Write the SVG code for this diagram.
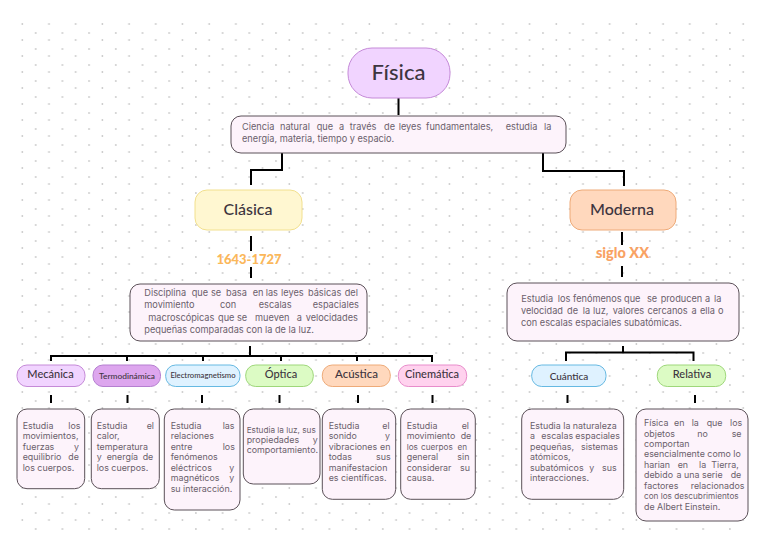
<svg xmlns="http://www.w3.org/2000/svg" width="768" height="556" viewBox="0 0 768 556">
<style>
.h{font-family:"Lato","Noto Sans",sans-serif;fill:#3d3540;text-anchor:middle;font-weight:500}
.b{font-family:"Inter","Noto Sans",sans-serif;font-size:9.2px;fill:#6b5f6c}
.t{font-size:8.9px}
.n{font-size:8.2px}
.s{font-family:"Lato","Noto Sans",sans-serif;font-weight:900;text-anchor:middle}
.d{fill:#fdf3fb;stroke:#5b5058;stroke-width:1}
.c{fill:none;stroke:#000;stroke-width:2}
</style>
<defs>
<pattern id="dots" width="53.4" height="32" patternUnits="userSpaceOnUse" x="16" y="18">
<circle cx="6.300" cy="6" r="0.9" fill="#c8c8c8"/><circle cx="33" cy="6" r="0.9" fill="#c8c8c8"/>
<circle cx="19.700" cy="15" r="0.9" fill="#c8c8c8"/><circle cx="46.400" cy="15" r="0.9" fill="#c8c8c8"/>
<circle cx="6.300" cy="22" r="0.9" fill="#c8c8c8"/><circle cx="33" cy="22" r="0.9" fill="#c8c8c8"/>
<circle cx="19.700" cy="31" r="0.9" fill="#c8c8c8"/><circle cx="46.400" cy="31" r="0.9" fill="#c8c8c8"/>
</pattern>
</defs>
<rect width="768" height="556" fill="#fff"/>
<rect x="16" y="18" width="734" height="516" fill="url(#dots)"/>
<g id="connectors" class="c">
<path d="M398.500 98V115"/>
<path d="M282 153V170H251V185"/>
<path d="M543 153V171H624V186"/>
<path d="M251 236V251M251 267V278"/>
<path d="M622 232V245M622 266V277"/>
<path d="M250 346V356"/>
<path d="M51 361V356H432V362M127 356V361M203 356V361M281 356V361M357 356V361"/>
<path d="M623 346V352"/>
<path d="M566 361V352.500H693.500V361"/>
<path d="M51 395V403M127.500 395V403M202 395V403M279.500 395V403M358 395V403M432.500 395V403M567.500 395V403M695 395V403"/>
</g>
<g id="fisica"><rect x="348" y="48" width="102" height="50" rx="24" fill="#f1d4ff" stroke="#c58ad8"/><text class="h" x="398.500" y="80" font-size="22">Física</text></g>
<g id="ciencia"><rect class="d" x="231" y="116" width="335" height="37" rx="10"/><text class="b"><tspan x="242" y="130">Ciencia </tspan><tspan x="280">natural </tspan><tspan x="316.700">que </tspan><tspan x="339">a </tspan><tspan x="349.700">través </tspan><tspan x="384">de </tspan><tspan x="398.700">leyes </tspan><tspan x="426">fundamentales, </tspan><tspan x="505.700">estudia </tspan><tspan x="544">la</tspan><tspan x="242" y="142">energía, materia, tiempo y espacio.</tspan></text></g>
<g id="clasica"><rect x="195" y="190" width="107" height="40" rx="12" fill="#fff7d1" stroke="#f2e08e"/><text class="h" x="248" y="215" font-size="16">Clásica</text></g>
<g id="moderna"><rect x="570" y="190" width="106" height="40" rx="12" fill="#ffd8bd" stroke="#eeaa78"/><text class="h" x="622" y="215" font-size="16">Moderna</text></g>
<g id="y1"><text class="s" x="249" y="264" font-size="13" fill="#fbb75a">1643-1727</text></g>
<g id="y2"><text class="s" x="622.500" y="258" font-size="14.500" fill="#f9a263">siglo XX</text></g>
<g id="disciplina"><rect class="d" x="130" y="284" width="237" height="57" rx="10"/><text class="b"><tspan x="144.300" y="296">Disciplina </tspan><tspan x="191.700">que </tspan><tspan x="211">se </tspan><tspan x="226">basa </tspan><tspan x="252.700">en </tspan><tspan x="265.700">las </tspan><tspan x="281">leyes </tspan><tspan x="308">básicas </tspan><tspan x="344.700">del</tspan><tspan x="144.300" y="308">movimiento </tspan><tspan x="220">con </tspan><tspan x="258.700">escalas </tspan><tspan x="312.700">espaciales</tspan><tspan x="148.300" y="321">macroscópicas </tspan><tspan x="218">que </tspan><tspan x="237">se </tspan><tspan x="255">mueven </tspan><tspan x="296.700">a </tspan><tspan x="305.700">velocidades</tspan><tspan x="144.300" y="333">pequeñas comparadas con la de la luz.</tspan></text></g>
<g id="estudia-mod"><rect class="d" x="507" y="283" width="232" height="58" rx="10"/><text class="b"><tspan x="521.300" y="302">Estudia </tspan><tspan x="557.700">los </tspan><tspan x="573">fenómenos </tspan><tspan x="624">que </tspan><tspan x="647">se </tspan><tspan x="660.700">producen </tspan><tspan x="705">a </tspan><tspan x="714">la</tspan><tspan x="521" y="314">velocidad </tspan><tspan x="567">de </tspan><tspan x="582.700">la </tspan><tspan x="593">luz, </tspan><tspan x="612.700">valores </tspan><tspan x="647.500">cercanos </tspan><tspan x="691.500">a </tspan><tspan x="700">ella </tspan><tspan x="718">o</tspan><tspan x="521" y="326">con escalas espaciales subatómicas.</tspan></text></g>
<g id="mecanica"><rect x="17" y="365" width="68" height="21.500" rx="10" fill="#f1d4ff" stroke="#c58ad8"/><text class="h" x="50.500" y="378" font-size="11">Mecánica</text></g>
<g id="termo"><rect x="93" y="365" width="67.500" height="21.500" rx="10" fill="#dda6ee" stroke="#b57fd0"/><text class="h" x="127" y="378.500" font-size="8.400">Termodinámica</text></g>
<g id="electro"><rect x="165.700" y="365" width="74.300" height="21.500" rx="10" fill="#dff2ff" stroke="#66b9e2"/><text class="h" x="203" y="377.500" font-size="7.700">Electromagnetismo</text></g>
<g id="optica"><rect x="245.700" y="365" width="67.600" height="21.500" rx="10" fill="#dcfbc4" stroke="#9ed77a"/><text class="h" x="281" y="378" font-size="11">Óptica</text></g>
<g id="acustica"><rect x="322.300" y="365" width="68" height="21.500" rx="10" fill="#ffd8bd" stroke="#eeaa78"/><text class="h" x="356.500" y="378" font-size="11.500">Acústica</text></g>
<g id="cinematica"><rect x="398.300" y="365" width="68.400" height="21.500" rx="10" fill="#ffd2ee" stroke="#e88ccb"/><text class="h" x="432" y="378" font-size="11">Cinemática</text></g>
<g id="cuantica"><rect x="531.700" y="365" width="74.300" height="21.500" rx="10" fill="#dff2ff" stroke="#66b9e2"/><text class="h" x="569" y="380" font-size="10">Cuántica</text></g>
<g id="relativa"><rect x="657.300" y="365" width="68.400" height="21.500" rx="10" fill="#dcfbc4" stroke="#9ed77a"/><text class="h" x="692" y="378" font-size="11">Relativa</text></g>
<g id="d1"><rect class="d" x="17" y="409" width="67.700" height="79.700" rx="10"/><text class="b t"><tspan x="22.700" y="429">Estudia </tspan><tspan x="68.300">los</tspan><tspan x="22.700" y="439.300">movimientos,</tspan><tspan x="22.700" y="450">fuerzas </tspan><tspan x="74">y</tspan><tspan x="22.700" y="460.300">equilibrio </tspan><tspan x="68.300">de</tspan><tspan x="22.700" y="471">los cuerpos.</tspan></text></g>
<g id="d2"><rect class="d" x="91.300" y="409" width="68" height="79.700" rx="10"/><text class="b t"><tspan x="96.700" y="429">Estudia </tspan><tspan x="146.700">el</tspan><tspan x="96.700" y="439.300">calor,</tspan><tspan x="96.700" y="450">temperatura</tspan><tspan x="96.700" y="460.300">y </tspan><tspan x="106.700">energía </tspan><tspan x="142.700">de</tspan><tspan x="96.700" y="471">los cuerpos.</tspan></text></g>
<g id="d3"><rect class="d" x="164.300" y="409" width="75.700" height="101" rx="10"/><text class="b t"><tspan x="170.700" y="429">Estudia </tspan><tspan x="222.700">las</tspan><tspan x="170.700" y="439.300">relaciones</tspan><tspan x="170.700" y="450">entre </tspan><tspan x="222.700">los</tspan><tspan x="170.700" y="460.300">fenómenos</tspan><tspan x="170.700" y="471">eléctricos </tspan><tspan x="229.300">y</tspan><tspan x="170.700" y="481.300">magnéticos </tspan><tspan x="229.300">y</tspan><tspan x="170.700" y="492">su interacción.</tspan></text></g>
<g id="d4"><rect class="d" x="243.300" y="409" width="76.700" height="75" rx="10"/><text class="b t"><tspan class="n" x="246.700" y="432.700">Estudia la luz, sus</tspan><tspan x="246.700" y="443">propiedades </tspan><tspan x="312.700">y</tspan><tspan x="246.700" y="453.300">comportamiento.</tspan></text></g>
<g id="d5"><rect class="d" x="322.300" y="409" width="73.400" height="90.300" rx="10"/><text class="b t"><tspan x="328.700" y="429">Estudia </tspan><tspan x="382.300">el</tspan><tspan x="328.700" y="439.300">sonido </tspan><tspan x="385">y</tspan><tspan x="328.700" y="450">vibraciones </tspan><tspan x="380">en</tspan><tspan x="328.700" y="460.300">todas </tspan><tspan x="376">sus</tspan><tspan x="328.700" y="471">manifestacion</tspan><tspan x="328.700" y="481.300">es científicas.</tspan></text></g>
<g id="d6"><rect class="d" x="400.700" y="409" width="74.600" height="90.300" rx="10"/><text class="b t"><tspan x="406.700" y="429">Estudia </tspan><tspan x="461.700">el</tspan><tspan x="406.700" y="439.300">movimiento </tspan><tspan x="460.700">de</tspan><tspan class="n" x="406.700" y="450">los </tspan><tspan class="n" x="421">cuerpos </tspan><tspan class="n" x="457.500">en</tspan><tspan x="406.700" y="460.300">general </tspan><tspan x="457.300">sin</tspan><tspan x="406.700" y="471">considerar </tspan><tspan x="460">su</tspan><tspan x="406.700" y="481.300">causa.</tspan></text></g>
<g id="d7"><rect class="d" x="521.700" y="409" width="102" height="90.300" rx="10"/><text class="b t"><tspan x="530" y="429">Estudia la naturaleza</tspan><tspan x="530" y="439.300">a </tspan><tspan x="541.300">escalas </tspan><tspan x="575.300">espaciales</tspan><tspan x="530" y="450">pequeñas, </tspan><tspan x="581">sistemas</tspan><tspan x="530" y="460.300">atómicos,</tspan><tspan x="530" y="471">subatómicos </tspan><tspan x="589.300">y </tspan><tspan x="602">sus</tspan><tspan x="530" y="481.300">interacciones.</tspan></text></g>
<g id="d8"><rect class="d" x="636" y="409" width="112" height="112" rx="10"/><text class="b t"><tspan x="644" y="425.700">Física </tspan><tspan x="674">en </tspan><tspan x="691.700">la </tspan><tspan x="706.700">que </tspan><tspan x="730">los</tspan><tspan x="644" y="436.700">objetos </tspan><tspan x="697.300">no </tspan><tspan x="731.700">se</tspan><tspan x="644" y="447">comportan</tspan><tspan x="644" y="457.300">esencialmente como lo</tspan><tspan x="644" y="468">harian </tspan><tspan x="677.700">en </tspan><tspan x="699">la </tspan><tspan x="711.300">Tierra,</tspan><tspan x="644" y="478.300">debido </tspan><tspan x="676.500">a </tspan><tspan x="684">una </tspan><tspan x="702">serie </tspan><tspan x="730.700">de</tspan><tspan x="644" y="489">factores </tspan><tspan x="690.700">relacionados</tspan><tspan class="n" x="644" y="499.300">con los descubrimientos</tspan><tspan x="644" y="510">de Albert Einstein.</tspan></text></g>
</svg>
